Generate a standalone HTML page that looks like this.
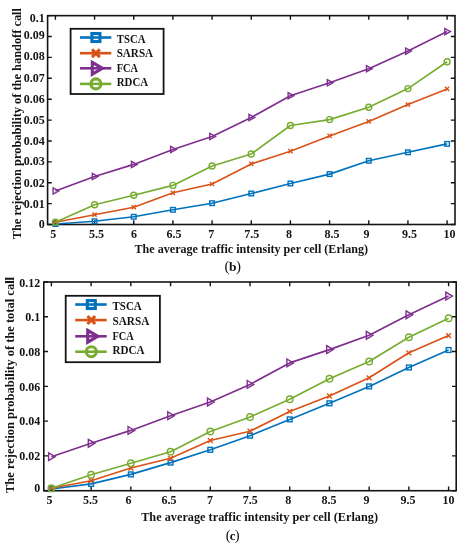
<!DOCTYPE html><html><head><meta charset="utf-8"><title>Rejection probability charts</title><style>html,body{margin:0;padding:0;background:#fff;}svg{display:block;filter:blur(0.3px);}text{font-family:'Liberation Serif', 'Times New Roman', serif;font-weight:bold;fill:#141414;}</style></head><body>
<svg width="471" height="550" viewBox="0 0 471 550">
<rect width="471" height="550" fill="#fff"/>
<g id="chart-b">
<rect x="47.6" y="15.65" width="407.4" height="208.85" fill="none" stroke="#141414" stroke-width="1.6"/>
<path d="M55.4 224.5V220.3M55.4 15.65V19.85M94.57 224.5V220.3M94.57 15.65V19.85M133.74 224.5V220.3M133.74 15.65V19.85M172.91 224.5V220.3M172.91 15.65V19.85M212.08 224.5V220.3M212.08 15.65V19.85M251.25 224.5V220.3M251.25 15.65V19.85M290.42 224.5V220.3M290.42 15.65V19.85M329.59 224.5V220.3M329.59 15.65V19.85M368.76 224.5V220.3M368.76 15.65V19.85M407.93 224.5V220.3M407.93 15.65V19.85M447.1 224.5V220.3M447.1 15.65V19.85M47.6 224.5H51.8M455 224.5H450.8M47.6 203.62H51.8M455 203.62H450.8M47.6 182.73H51.8M455 182.73H450.8M47.6 161.84H51.8M455 161.84H450.8M47.6 140.96H51.8M455 140.96H450.8M47.6 120.08H51.8M455 120.08H450.8M47.6 99.19H51.8M455 99.19H450.8M47.6 78.3H51.8M455 78.3H450.8M47.6 57.42H51.8M455 57.42H450.8M47.6 36.54H51.8M455 36.54H450.8M47.6 15.65H51.8M455 15.65H450.8" stroke="#141414" stroke-width="1.4" fill="none"/>
<polyline points="55.4,224 94.57,221.3 133.74,216.8 172.91,209.8 212.08,203.2 251.25,193.5 290.42,183.5 329.59,174.1 368.76,160.8 407.93,152.3 447.1,143.9" fill="none" stroke="#0072BD" stroke-width="1.65" stroke-linejoin="round"/>
<rect x="53.1" y="221.7" width="4.6" height="4.6" fill="none" stroke="#0072BD" stroke-width="1.4"/>
<rect x="92.27" y="219" width="4.6" height="4.6" fill="none" stroke="#0072BD" stroke-width="1.4"/>
<rect x="131.44" y="214.5" width="4.6" height="4.6" fill="none" stroke="#0072BD" stroke-width="1.4"/>
<rect x="170.61" y="207.5" width="4.6" height="4.6" fill="none" stroke="#0072BD" stroke-width="1.4"/>
<rect x="209.78" y="200.9" width="4.6" height="4.6" fill="none" stroke="#0072BD" stroke-width="1.4"/>
<rect x="248.95" y="191.2" width="4.6" height="4.6" fill="none" stroke="#0072BD" stroke-width="1.4"/>
<rect x="288.12" y="181.2" width="4.6" height="4.6" fill="none" stroke="#0072BD" stroke-width="1.4"/>
<rect x="327.29" y="171.8" width="4.6" height="4.6" fill="none" stroke="#0072BD" stroke-width="1.4"/>
<rect x="366.46" y="158.5" width="4.6" height="4.6" fill="none" stroke="#0072BD" stroke-width="1.4"/>
<rect x="405.63" y="150" width="4.6" height="4.6" fill="none" stroke="#0072BD" stroke-width="1.4"/>
<rect x="444.8" y="141.6" width="4.6" height="4.6" fill="none" stroke="#0072BD" stroke-width="1.4"/>
<polyline points="55.4,222.2 94.57,214.7 133.74,207.2 172.91,192.8 212.08,184 251.25,163.9 290.42,151.2 329.59,135.9 368.76,121.4 407.93,104.6 447.1,88.9" fill="none" stroke="#D95319" stroke-width="1.65" stroke-linejoin="round"/>
<path d="M53.3 220.1L57.5 224.3M53.3 224.3L57.5 220.1" stroke="#D95319" stroke-width="1.4" fill="none"/>
<path d="M92.47 212.6L96.67 216.8M92.47 216.8L96.67 212.6" stroke="#D95319" stroke-width="1.4" fill="none"/>
<path d="M131.64 205.1L135.84 209.3M131.64 209.3L135.84 205.1" stroke="#D95319" stroke-width="1.4" fill="none"/>
<path d="M170.81 190.7L175.01 194.9M170.81 194.9L175.01 190.7" stroke="#D95319" stroke-width="1.4" fill="none"/>
<path d="M209.98 181.9L214.18 186.1M209.98 186.1L214.18 181.9" stroke="#D95319" stroke-width="1.4" fill="none"/>
<path d="M249.15 161.8L253.35 166M249.15 166L253.35 161.8" stroke="#D95319" stroke-width="1.4" fill="none"/>
<path d="M288.32 149.1L292.52 153.3M288.32 153.3L292.52 149.1" stroke="#D95319" stroke-width="1.4" fill="none"/>
<path d="M327.49 133.8L331.69 138M327.49 138L331.69 133.8" stroke="#D95319" stroke-width="1.4" fill="none"/>
<path d="M366.66 119.3L370.86 123.5M366.66 123.5L370.86 119.3" stroke="#D95319" stroke-width="1.4" fill="none"/>
<path d="M405.83 102.5L410.03 106.7M405.83 106.7L410.03 102.5" stroke="#D95319" stroke-width="1.4" fill="none"/>
<path d="M445 86.8L449.2 91M445 91L449.2 86.8" stroke="#D95319" stroke-width="1.4" fill="none"/>
<polyline points="55.4,191 94.57,176.5 133.74,164.4 172.91,149.5 212.08,136.5 251.25,117.5 290.42,95.8 329.59,82.8 368.76,68.7 407.93,51.1 447.1,31.6" fill="none" stroke="#7E2F8E" stroke-width="1.65" stroke-linejoin="round"/>
<path d="M53.1 187.9L58.8 191L53.1 194.1Z" stroke="#7E2F8E" stroke-width="1.4" fill="none" stroke-linejoin="miter"/>
<path d="M92.27 173.4L97.97 176.5L92.27 179.6Z" stroke="#7E2F8E" stroke-width="1.4" fill="none" stroke-linejoin="miter"/>
<path d="M131.44 161.3L137.14 164.4L131.44 167.5Z" stroke="#7E2F8E" stroke-width="1.4" fill="none" stroke-linejoin="miter"/>
<path d="M170.61 146.4L176.31 149.5L170.61 152.6Z" stroke="#7E2F8E" stroke-width="1.4" fill="none" stroke-linejoin="miter"/>
<path d="M209.78 133.4L215.48 136.5L209.78 139.6Z" stroke="#7E2F8E" stroke-width="1.4" fill="none" stroke-linejoin="miter"/>
<path d="M248.95 114.4L254.65 117.5L248.95 120.6Z" stroke="#7E2F8E" stroke-width="1.4" fill="none" stroke-linejoin="miter"/>
<path d="M288.12 92.7L293.82 95.8L288.12 98.9Z" stroke="#7E2F8E" stroke-width="1.4" fill="none" stroke-linejoin="miter"/>
<path d="M327.29 79.7L332.99 82.8L327.29 85.9Z" stroke="#7E2F8E" stroke-width="1.4" fill="none" stroke-linejoin="miter"/>
<path d="M366.46 65.6L372.16 68.7L366.46 71.8Z" stroke="#7E2F8E" stroke-width="1.4" fill="none" stroke-linejoin="miter"/>
<path d="M405.63 48L411.33 51.1L405.63 54.2Z" stroke="#7E2F8E" stroke-width="1.4" fill="none" stroke-linejoin="miter"/>
<path d="M444.8 28.5L450.5 31.6L444.8 34.7Z" stroke="#7E2F8E" stroke-width="1.4" fill="none" stroke-linejoin="miter"/>
<polyline points="55.4,222.2 94.57,204.8 133.74,195.2 172.91,185.4 212.08,166 251.25,154 290.42,125.5 329.59,119.6 368.76,107.2 407.93,88.6 447.1,61.8" fill="none" stroke="#77AC30" stroke-width="1.65" stroke-linejoin="round"/>
<circle cx="55.4" cy="222.2" r="3.0" fill="none" stroke="#77AC30" stroke-width="1.4"/>
<circle cx="94.57" cy="204.8" r="3.0" fill="none" stroke="#77AC30" stroke-width="1.4"/>
<circle cx="133.74" cy="195.2" r="3.0" fill="none" stroke="#77AC30" stroke-width="1.4"/>
<circle cx="172.91" cy="185.4" r="3.0" fill="none" stroke="#77AC30" stroke-width="1.4"/>
<circle cx="212.08" cy="166" r="3.0" fill="none" stroke="#77AC30" stroke-width="1.4"/>
<circle cx="251.25" cy="154" r="3.0" fill="none" stroke="#77AC30" stroke-width="1.4"/>
<circle cx="290.42" cy="125.5" r="3.0" fill="none" stroke="#77AC30" stroke-width="1.4"/>
<circle cx="329.59" cy="119.6" r="3.0" fill="none" stroke="#77AC30" stroke-width="1.4"/>
<circle cx="368.76" cy="107.2" r="3.0" fill="none" stroke="#77AC30" stroke-width="1.4"/>
<circle cx="407.93" cy="88.6" r="3.0" fill="none" stroke="#77AC30" stroke-width="1.4"/>
<circle cx="447.1" cy="61.8" r="3.0" fill="none" stroke="#77AC30" stroke-width="1.4"/>
<text x="53.3" y="237.7" font-size="12" text-anchor="middle">5</text>
<text x="96.5" y="237.7" font-size="12" text-anchor="middle">5.5</text>
<text x="133.9" y="237.7" font-size="12" text-anchor="middle">6</text>
<text x="174" y="237.7" font-size="12" text-anchor="middle">6.5</text>
<text x="211.3" y="237.7" font-size="12" text-anchor="middle">7</text>
<text x="251.8" y="237.7" font-size="12" text-anchor="middle">7.5</text>
<text x="289" y="237.7" font-size="12" text-anchor="middle">8</text>
<text x="331.9" y="237.7" font-size="12" text-anchor="middle">8.5</text>
<text x="366.4" y="237.7" font-size="12" text-anchor="middle">9</text>
<text x="409.6" y="237.7" font-size="12" text-anchor="middle">9.5</text>
<text x="449.6" y="237.7" font-size="12" text-anchor="middle">10</text>
<text x="44.8" y="227.5" font-size="12" text-anchor="end">0</text>
<text x="44.8" y="207.5" font-size="12" text-anchor="end">0.01</text>
<text x="44.8" y="186.5" font-size="12" text-anchor="end">0.02</text>
<text x="44.8" y="164.8" font-size="12" text-anchor="end">0.03</text>
<text x="44.8" y="144.5" font-size="12" text-anchor="end">0.04</text>
<text x="44.8" y="124.3" font-size="12" text-anchor="end">0.05</text>
<text x="44.8" y="103.3" font-size="12" text-anchor="end">0.06</text>
<text x="44.8" y="82" font-size="12" text-anchor="end">0.07</text>
<text x="44.8" y="60.4" font-size="12" text-anchor="end">0.08</text>
<text x="44.8" y="39.3" font-size="12" text-anchor="end">0.09</text>
<text x="44.8" y="21.9" font-size="12" text-anchor="end">0.1</text>
<rect x="70.6" y="28.8" width="93" height="65.2" fill="#fff" stroke="#141414" stroke-width="1.8"/>
<line x1="80" y1="37.5" x2="111.3" y2="37.5" stroke="#0072BD" stroke-width="2.6"/>
<rect x="91.9" y="33.5" width="8" height="8" fill="none" stroke="#0072BD" stroke-width="3.1"/>
<text x="116.7" y="42.9" font-size="12" textLength="28.8" lengthAdjust="spacingAndGlyphs">TSCA</text>
<line x1="80" y1="53.2" x2="111.3" y2="53.2" stroke="#D95319" stroke-width="2.6"/>
<path d="M92 49.3L99.8 57.1M92 57.1L99.8 49.3" stroke="#D95319" stroke-width="3.1" fill="none"/>
<text x="116.7" y="57.2" font-size="12" textLength="36.4" lengthAdjust="spacingAndGlyphs">SARSA</text>
<line x1="80" y1="68.3" x2="111.3" y2="68.3" stroke="#7E2F8E" stroke-width="2.6"/>
<path d="M92.3 62.4L102.4 68.3L92.3 74.2Z" stroke="#7E2F8E" stroke-width="3.1" fill="none" stroke-linejoin="miter"/>
<text x="116.7" y="71.7" font-size="12" textLength="21.2" lengthAdjust="spacingAndGlyphs">FCA</text>
<line x1="80" y1="83.9" x2="111.3" y2="83.9" stroke="#77AC30" stroke-width="2.6"/>
<circle cx="95.9" cy="83.9" r="5.0" fill="none" stroke="#77AC30" stroke-width="3.1"/>
<text x="116.7" y="86.3" font-size="12" textLength="31.5" lengthAdjust="spacingAndGlyphs">RDCA</text>
<text transform="translate(21,239.3) rotate(-90)" x="0" y="0" font-size="12" textLength="231.3" lengthAdjust="spacingAndGlyphs">The rejection probability of the handoff call</text>
<text x="134.5" y="253.3" font-size="12" textLength="233.5" lengthAdjust="spacingAndGlyphs">The average traffic intensity per cell (Erlang)</text>
<text x="232.8" y="270.7" font-size="13.5" text-anchor="middle" textLength="16.4" lengthAdjust="spacing"><tspan font-weight="normal" font-size="15">(</tspan>b<tspan font-weight="normal" font-size="15">)</tspan></text>
</g>
<g id="chart-c">
<rect x="43.8" y="282" width="412.4" height="208.7" fill="none" stroke="#141414" stroke-width="1.6"/>
<path d="M51.4 490.7V486.5M51.4 282V286.2M91.12 490.7V486.5M91.12 282V286.2M130.84 490.7V486.5M130.84 282V286.2M170.56 490.7V486.5M170.56 282V286.2M210.28 490.7V486.5M210.28 282V286.2M250 490.7V486.5M250 282V286.2M289.72 490.7V486.5M289.72 282V286.2M329.44 490.7V486.5M329.44 282V286.2M369.16 490.7V486.5M369.16 282V286.2M408.88 490.7V486.5M408.88 282V286.2M448.6 490.7V486.5M448.6 282V286.2M43.8 490.7H48M456.2 490.7H452M43.8 455.92H48M456.2 455.92H452M43.8 421.13H48M456.2 421.13H452M43.8 386.35H48M456.2 386.35H452M43.8 351.57H48M456.2 351.57H452M43.8 316.78H48M456.2 316.78H452M43.8 282H48M456.2 282H452" stroke="#141414" stroke-width="1.4" fill="none"/>
<polyline points="51.4,489 91.12,483.9 130.84,474.4 170.56,462.6 210.28,449.8 250,435.7 289.72,419.4 329.44,403.3 369.16,386.4 408.88,367.5 448.6,350" fill="none" stroke="#0072BD" stroke-width="1.65" stroke-linejoin="round"/>
<rect x="49" y="486.6" width="4.8" height="4.8" fill="none" stroke="#0072BD" stroke-width="1.4"/>
<rect x="88.72" y="481.5" width="4.8" height="4.8" fill="none" stroke="#0072BD" stroke-width="1.4"/>
<rect x="128.44" y="472" width="4.8" height="4.8" fill="none" stroke="#0072BD" stroke-width="1.4"/>
<rect x="168.16" y="460.2" width="4.8" height="4.8" fill="none" stroke="#0072BD" stroke-width="1.4"/>
<rect x="207.88" y="447.4" width="4.8" height="4.8" fill="none" stroke="#0072BD" stroke-width="1.4"/>
<rect x="247.6" y="433.3" width="4.8" height="4.8" fill="none" stroke="#0072BD" stroke-width="1.4"/>
<rect x="287.32" y="417" width="4.8" height="4.8" fill="none" stroke="#0072BD" stroke-width="1.4"/>
<rect x="327.04" y="400.9" width="4.8" height="4.8" fill="none" stroke="#0072BD" stroke-width="1.4"/>
<rect x="366.76" y="384" width="4.8" height="4.8" fill="none" stroke="#0072BD" stroke-width="1.4"/>
<rect x="406.48" y="365.1" width="4.8" height="4.8" fill="none" stroke="#0072BD" stroke-width="1.4"/>
<rect x="446.2" y="347.6" width="4.8" height="4.8" fill="none" stroke="#0072BD" stroke-width="1.4"/>
<polyline points="51.4,488.2 91.12,480.7 130.84,468 170.56,458.3 210.28,440.5 250,431.2 289.72,411.4 329.44,396 369.16,377.8 408.88,352.8 448.6,335.6" fill="none" stroke="#D95319" stroke-width="1.65" stroke-linejoin="round"/>
<path d="M49 485.8L53.8 490.6M49 490.6L53.8 485.8" stroke="#D95319" stroke-width="1.4" fill="none"/>
<path d="M88.72 478.3L93.52 483.1M88.72 483.1L93.52 478.3" stroke="#D95319" stroke-width="1.4" fill="none"/>
<path d="M128.44 465.6L133.24 470.4M128.44 470.4L133.24 465.6" stroke="#D95319" stroke-width="1.4" fill="none"/>
<path d="M168.16 455.9L172.96 460.7M168.16 460.7L172.96 455.9" stroke="#D95319" stroke-width="1.4" fill="none"/>
<path d="M207.88 438.1L212.68 442.9M207.88 442.9L212.68 438.1" stroke="#D95319" stroke-width="1.4" fill="none"/>
<path d="M247.6 428.8L252.4 433.6M247.6 433.6L252.4 428.8" stroke="#D95319" stroke-width="1.4" fill="none"/>
<path d="M287.32 409L292.12 413.8M287.32 413.8L292.12 409" stroke="#D95319" stroke-width="1.4" fill="none"/>
<path d="M327.04 393.6L331.84 398.4M327.04 398.4L331.84 393.6" stroke="#D95319" stroke-width="1.4" fill="none"/>
<path d="M366.76 375.4L371.56 380.2M366.76 380.2L371.56 375.4" stroke="#D95319" stroke-width="1.4" fill="none"/>
<path d="M406.48 350.4L411.28 355.2M406.48 355.2L411.28 350.4" stroke="#D95319" stroke-width="1.4" fill="none"/>
<path d="M446.2 333.2L451 338M446.2 338L451 333.2" stroke="#D95319" stroke-width="1.4" fill="none"/>
<polyline points="51.4,456.7 91.12,443.3 130.84,430.4 170.56,415.7 210.28,402 250,384.4 289.72,362.9 329.44,349.6 369.16,335.3 408.88,314.8 448.6,296.1" fill="none" stroke="#7E2F8E" stroke-width="1.65" stroke-linejoin="round"/>
<path d="M48.6 452.8L55.2 456.7L48.6 460.6Z" stroke="#7E2F8E" stroke-width="1.4" fill="none" stroke-linejoin="miter"/>
<path d="M88.32 439.4L94.92 443.3L88.32 447.2Z" stroke="#7E2F8E" stroke-width="1.4" fill="none" stroke-linejoin="miter"/>
<path d="M128.04 426.5L134.64 430.4L128.04 434.3Z" stroke="#7E2F8E" stroke-width="1.4" fill="none" stroke-linejoin="miter"/>
<path d="M167.76 411.8L174.36 415.7L167.76 419.6Z" stroke="#7E2F8E" stroke-width="1.4" fill="none" stroke-linejoin="miter"/>
<path d="M207.48 398.1L214.08 402L207.48 405.9Z" stroke="#7E2F8E" stroke-width="1.4" fill="none" stroke-linejoin="miter"/>
<path d="M247.2 380.5L253.8 384.4L247.2 388.3Z" stroke="#7E2F8E" stroke-width="1.4" fill="none" stroke-linejoin="miter"/>
<path d="M286.92 359L293.52 362.9L286.92 366.8Z" stroke="#7E2F8E" stroke-width="1.4" fill="none" stroke-linejoin="miter"/>
<path d="M326.64 345.7L333.24 349.6L326.64 353.5Z" stroke="#7E2F8E" stroke-width="1.4" fill="none" stroke-linejoin="miter"/>
<path d="M366.36 331.4L372.96 335.3L366.36 339.2Z" stroke="#7E2F8E" stroke-width="1.4" fill="none" stroke-linejoin="miter"/>
<path d="M406.08 310.9L412.68 314.8L406.08 318.7Z" stroke="#7E2F8E" stroke-width="1.4" fill="none" stroke-linejoin="miter"/>
<path d="M445.8 292.2L452.4 296.1L445.8 300Z" stroke="#7E2F8E" stroke-width="1.4" fill="none" stroke-linejoin="miter"/>
<polyline points="51.4,488.2 91.12,474.7 130.84,463.2 170.56,451.7 210.28,431.5 250,417 289.72,399.3 329.44,378.7 369.16,361.5 408.88,337.2 448.6,318.3" fill="none" stroke="#77AC30" stroke-width="1.65" stroke-linejoin="round"/>
<circle cx="51.4" cy="488.2" r="3.25" fill="none" stroke="#77AC30" stroke-width="1.4"/>
<circle cx="91.12" cy="474.7" r="3.25" fill="none" stroke="#77AC30" stroke-width="1.4"/>
<circle cx="130.84" cy="463.2" r="3.25" fill="none" stroke="#77AC30" stroke-width="1.4"/>
<circle cx="170.56" cy="451.7" r="3.25" fill="none" stroke="#77AC30" stroke-width="1.4"/>
<circle cx="210.28" cy="431.5" r="3.25" fill="none" stroke="#77AC30" stroke-width="1.4"/>
<circle cx="250" cy="417" r="3.25" fill="none" stroke="#77AC30" stroke-width="1.4"/>
<circle cx="289.72" cy="399.3" r="3.25" fill="none" stroke="#77AC30" stroke-width="1.4"/>
<circle cx="329.44" cy="378.7" r="3.25" fill="none" stroke="#77AC30" stroke-width="1.4"/>
<circle cx="369.16" cy="361.5" r="3.25" fill="none" stroke="#77AC30" stroke-width="1.4"/>
<circle cx="408.88" cy="337.2" r="3.25" fill="none" stroke="#77AC30" stroke-width="1.4"/>
<circle cx="448.6" cy="318.3" r="3.25" fill="none" stroke="#77AC30" stroke-width="1.4"/>
<text x="49.6" y="503.8" font-size="12" text-anchor="middle">5</text>
<text x="90.6" y="503.8" font-size="12" text-anchor="middle">5.5</text>
<text x="128.4" y="503.8" font-size="12" text-anchor="middle">6</text>
<text x="169" y="503.8" font-size="12" text-anchor="middle">6.5</text>
<text x="210" y="503.8" font-size="12" text-anchor="middle">7</text>
<text x="250.3" y="503.8" font-size="12" text-anchor="middle">7.5</text>
<text x="288.3" y="503.8" font-size="12" text-anchor="middle">8</text>
<text x="329.1" y="503.8" font-size="12" text-anchor="middle">8.5</text>
<text x="366.4" y="503.8" font-size="12" text-anchor="middle">9</text>
<text x="407.9" y="503.8" font-size="12" text-anchor="middle">9.5</text>
<text x="448.5" y="503.8" font-size="12" text-anchor="middle">10</text>
<text x="40.3" y="492.2" font-size="12" text-anchor="end">0</text>
<text x="40.3" y="460.3" font-size="12" text-anchor="end">0.02</text>
<text x="40.3" y="424.6" font-size="12" text-anchor="end">0.04</text>
<text x="40.3" y="390.5" font-size="12" text-anchor="end">0.06</text>
<text x="40.3" y="355.5" font-size="12" text-anchor="end">0.08</text>
<text x="40.3" y="321.1" font-size="12" text-anchor="end">0.1</text>
<text x="40.3" y="286.8" font-size="12" text-anchor="end">0.12</text>
<rect x="65.7" y="295.8" width="94.2" height="66.4" fill="#fff" stroke="#141414" stroke-width="1.8"/>
<line x1="75.2" y1="304.5" x2="106.7" y2="304.5" stroke="#0072BD" stroke-width="2.6"/>
<rect x="87.3" y="300.5" width="8" height="8" fill="none" stroke="#0072BD" stroke-width="3.1"/>
<text x="112.5" y="309.8" font-size="12" textLength="29.2" lengthAdjust="spacingAndGlyphs">TSCA</text>
<line x1="75.2" y1="320.1" x2="106.7" y2="320.1" stroke="#D95319" stroke-width="2.6"/>
<path d="M87.4 316.2L95.2 324M87.4 324L95.2 316.2" stroke="#D95319" stroke-width="3.1" fill="none"/>
<text x="112.5" y="324.6" font-size="12" textLength="36.8" lengthAdjust="spacingAndGlyphs">SARSA</text>
<line x1="75.2" y1="336.3" x2="106.7" y2="336.3" stroke="#7E2F8E" stroke-width="2.6"/>
<path d="M87.7 330.4L97.8 336.3L87.7 342.2Z" stroke="#7E2F8E" stroke-width="3.1" fill="none" stroke-linejoin="miter"/>
<text x="112.5" y="339.7" font-size="12" textLength="21.2" lengthAdjust="spacingAndGlyphs">FCA</text>
<line x1="75.2" y1="351.7" x2="106.7" y2="351.7" stroke="#77AC30" stroke-width="2.6"/>
<circle cx="91.3" cy="351.7" r="5.0" fill="none" stroke="#77AC30" stroke-width="3.1"/>
<text x="112.5" y="354.3" font-size="12" textLength="32" lengthAdjust="spacingAndGlyphs">RDCA</text>
<text transform="translate(14.2,493) rotate(-90)" x="0" y="0" font-size="12" textLength="216.1" lengthAdjust="spacingAndGlyphs">The rejection probability of the total call</text>
<text x="141.2" y="521.2" font-size="12" textLength="236.8" lengthAdjust="spacingAndGlyphs">The average traffic intensity per cell (Erlang)</text>
<text x="232.6" y="540.3" font-size="12.8" text-anchor="middle" textLength="13.8" lengthAdjust="spacing"><tspan font-weight="normal" font-size="14.6">(</tspan>c<tspan font-weight="normal" font-size="14.6">)</tspan></text>
</g>
</svg></body></html>
